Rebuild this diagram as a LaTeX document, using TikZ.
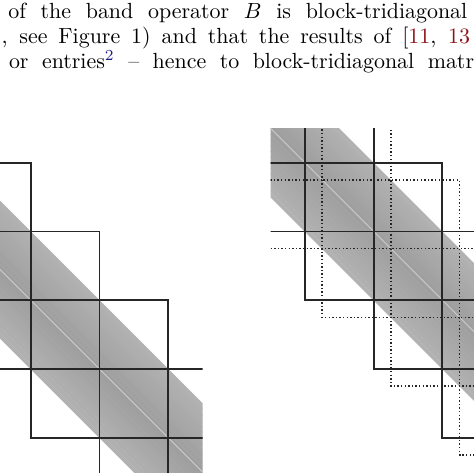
\documentclass[tikz,border=0pt]{standalone}
\usepackage{xcolor}
\usepackage{graphicx}
\definecolor{citered}{rgb}{0.55,0.08,0.10}
\definecolor{fnblue}{rgb}{0.12,0.12,0.55}
\def\blk{68.75}
\def\Nmat{343.75}
\tikzset{
  txt/.style={inner sep=0pt, outer sep=0pt, anchor=base west, font=\fontsize{10pt}{12pt}\selectfont},
  solidsq/.style={draw=black!85, line width=1.8bp},
  dotsq/.style={draw=black!85, line width=1.4bp, dash pattern=on 1.4bp off 2.2bp},
  diagline/.style={draw=black!20, line width=1bp},
}
\newcommand\matpanel[3]{%
\begin{scope}[shift={(#1,#2)}]
  \clip (0,0) rectangle (\Nmat,\Nmat);
  \foreach \i in {0,...,23}{
    \pgfmathsetmacro\da{-\blk+\i*\blk/12}
    \pgfmathsetmacro\db{\da+\blk/12+0.4}
    \pgfmathsetmacro\pp{38-8*abs(\da+\blk/24)/\blk}
    \fill[black!\pp] (-2*\blk,-2*\blk+\da) -- (\Nmat+2*\blk,\Nmat+2*\blk+\da) -- (\Nmat+2*\blk,\Nmat+2*\blk+\db) -- (-2*\blk,-2*\blk+\db) -- cycle;
  }
  \draw[diagline] (0,0) -- (\Nmat,\Nmat);
  \ifnum#3=1
    \foreach \k in {-1,...,5}
      \draw[dotsq] ({(\k-0.25)*\blk},{(\k-0.25)*\blk}) rectangle ++(2*\blk,2*\blk);
  \fi
  \foreach \k in {-1,...,5}
    \draw[solidsq] ({(\k-0.5)*\blk},{(\k-0.5)*\blk}) rectangle ++(2*\blk,2*\blk);
\end{scope}}
\begin{document}
\begin{tikzpicture}[x=1bp,y=-1bp]
\useasboundingbox (0,0) rectangle (474,474);
\clip (0,0) rectangle (474,474);
\fill[white] (0,0) rectangle (474,474);
\node[txt] (l1) at (8.3,18.3) {\scalebox{2.2}{\makebox[209.4pt][s]{of the band operator $B$ is block-tridiagonal}}};
\node[txt] (l2) at (1.5,43.3) {\scalebox{2.2}{\makebox[213.8pt][s]{, see Figure 1) and that the results of [\textcolor{citered}{11}, \textcolor{citered}{13}}}};
\node[txt] (l3) at (9,68.3) {\scalebox{2.2}{\makebox[212.2pt][s]{or entries\textsuperscript{\textcolor{fnblue}{2}} – hence to block-tridiagonal matr}}};
\matpanel{-141.2}{128.3}{0}
\matpanel{270.5}{128.3}{1}
\end{tikzpicture}
\end{document}
